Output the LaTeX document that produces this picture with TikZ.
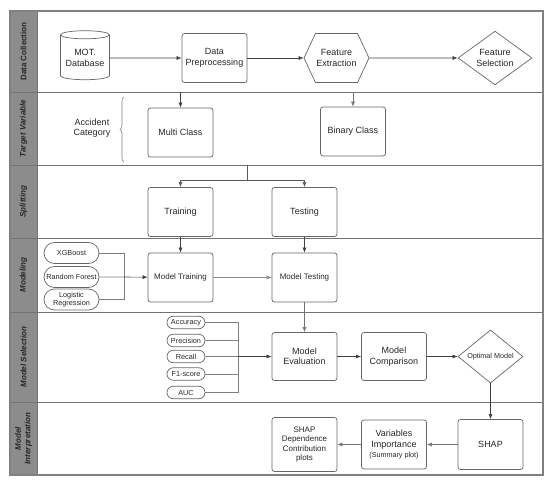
\documentclass[tikz,border=0pt]{standalone}
\usepackage{fontspec}
\setmainfont{Liberation Sans}
\usetikzlibrary{shapes.geometric,shapes.misc,shapes.symbols,arrows.meta,decorations.pathreplacing}
\begin{document}
\begin{tikzpicture}[x=1pt, y=-1pt, line width=0.6pt,
    every node/.style={font=\fontsize{9}{10.5}\selectfont, align=center, text=black!85},
    box/.style={draw=black!60, line width=0.7pt, rounded corners=2.5pt, minimum width=65pt, minimum height=49pt, inner sep=1pt},
    pill/.style={draw=black!60, line width=0.7pt, rounded rectangle, minimum width=57pt, minimum height=21pt, inner sep=1pt, font=\fontsize{7.3}{8}\selectfont},
    link/.style={draw=black!75, -{Latex[length=5pt,width=4pt]}},
    lane/.style={rotate=90, font=\bfseries\itshape\fontsize{8}{9.5}\selectfont, text=black!85}]
    \useasboundingbox (0,0) rectangle (550,486);

    % Draw lanes
    \fill[black!45] (10,11) rectangle (37,475);
    \foreach \y in {92,165,238,312,402} {
        \draw[black!55] (10,\y) -- (543,\y);
    }
    \draw[black!55] (37,11) -- (37,475);
    \draw[black!50, line width=1.2pt] (10,11) rectangle (543,475);

    % Lane titles
    \node[lane, font=\bfseries\fontsize{8}{9.5}\selectfont] (lcollect) at (23.5,51.5) {Data Collection};
    \foreach \y/\name/\txt in {128.5/ltarget/Target Variable, 201.5/lsplit/Splitting, 275/lmodel/Modeling,
        357/lselect/Model Selection, 438.5/linterp/{Model\\Interpretation}} {
        \node[lane] (\name) at (23.5,\y) {\txt};
    }

    % Data collection
    \node[cylinder, shape border rotate=90, aspect=0.2, draw=black!60, line width=0.7pt, minimum width=49pt, minimum height=49pt, inner sep=1pt] (db) at (85,58) {MOT.\\Database};
    \node[box] (prep) at (214.5,58) {Data\\Preprocessing};
    \node[signal, signal to=east and west, signal pointer angle=130, draw=black!60, line width=0.7pt, minimum width=65pt, minimum height=49pt, inner sep=1pt] (extr) at (336.5,58) {Feature\\Extraction};
    \node[diamond, draw=black!60, line width=0.7pt, minimum width=74pt, minimum height=48pt, inner sep=0pt] (sel) at (495,58) {Feature\\Selection};
    \draw[link] (db) -- (prep);
    \draw[link] (prep) -- (extr);
    \draw[link] (extr) -- (sel);

    % Target variable
    \node (cat) at (92,128) {Accident\\Category};
    \draw[black!50, decorate, decoration={brace, amplitude=4pt}] (124,162) -- (124,97);
    \node[box] (multi) at (180.5,132.5) {Multi Class};
    \node[box] (binary) at (353,131.5) {Binary Class};
    \coordinate (tvA) at (180.5,92);
    \coordinate (tvB) at (353,92);
    \draw[link] (tvA) -- (multi);
    \draw[link, draw=black!55] (tvB) -- (binary);

    % Splitting
    \coordinate (split) at (247,165);
    \coordinate (fork) at (247,180);
    \node[box] (train) at (180.5,212) {Training};
    \node[box] (test) at (304.5,212) {Testing};
    \draw[black!65] (split) -- (fork);
    \draw[link, draw=black!65] (fork) -| (train);
    \draw[link, draw=black!65] (fork) -| (test);

    % Modeling
    \foreach \y/\name/\txt in {253/xgb/XGBoost, 277/rf/Random Forest, 299.5/lr/{Logistic\\Regression}} {
        \node[pill] (\name) at (71.5,\y) {\txt};
    }
    \coordinate (busA) at (124,277);
    \node[box, font=\fontsize{8}{9.5}\selectfont] (mtrain) at (180.5,277.5) {Model Training};
    \node[box, font=\fontsize{8}{9.5}\selectfont] (mtest) at (304.5,277.5) {Model Testing};
    \draw[black!50] (xgb) -| (busA);
    \draw[black!50] (lr) -| (busA);
    \draw[black!50] (rf) -- (busA);
    \draw[link] (busA) -- (mtrain);
    \draw[link, draw=black!45] (mtrain) -- (mtest);
    \draw[link] (train) -- (mtrain);
    \draw[link] (test) -- (mtest);

    % Model selection
    \foreach \y/\name/\txt in {322.5/accu/Accuracy, 340.5/prec/Precision, 356.5/rec/Recall, 374/fone/F1-score, 392.5/auc/AUC} {
        \node[pill, minimum width=40pt, minimum height=12.5pt] (\name) at (186,\y) {\txt};
    }
    \coordinate (busB) at (238,356.5);
    \foreach \name in {accu,prec,fone,auc} {
        \draw[black!50] (\name) -| (busB);
    }
    \draw[black!50] (rec) -- (busB);
    \node[box, minimum height=48pt] (eval) at (304.5,356.5) {Model\\Evaluation};
    \node[box, minimum height=48pt] (comp) at (394,356.5) {Model\\Comparison};
    \node[diamond, draw=black!60, line width=0.7pt, minimum width=65pt, minimum height=47pt, inner sep=0pt, font=\fontsize{7.2}{8}\selectfont] (opt) at (490.5,356.5) {Optimal Model};
    \draw[link] (busB) -- (eval);
    \draw[link, draw=black!55] (mtest) -- (eval);
    \draw[link] (eval) -- (comp);
    \draw[link] (comp) -- (opt);

    % Model interpretation
    \node[box, minimum height=50pt] (shap) at (490.5,444.5) {SHAP};
    \node[box] (vimp) at (394,444.5) {Variables\\Importance\\{\fontsize{7.2}{8}\selectfont(Summary plot)}};
    \node[box, minimum height=54pt, font=\fontsize{8}{9.5}\selectfont] (dep) at (304.5,444.5) {SHAP\\Dependence\\Contribution\\plots};
    \draw[link] (opt) -- (shap);
    \draw[link, draw=black!55] (shap) -- (vimp);
    \draw[link, draw=black!55] (vimp) -- (dep);

\end{tikzpicture}
\end{document}
